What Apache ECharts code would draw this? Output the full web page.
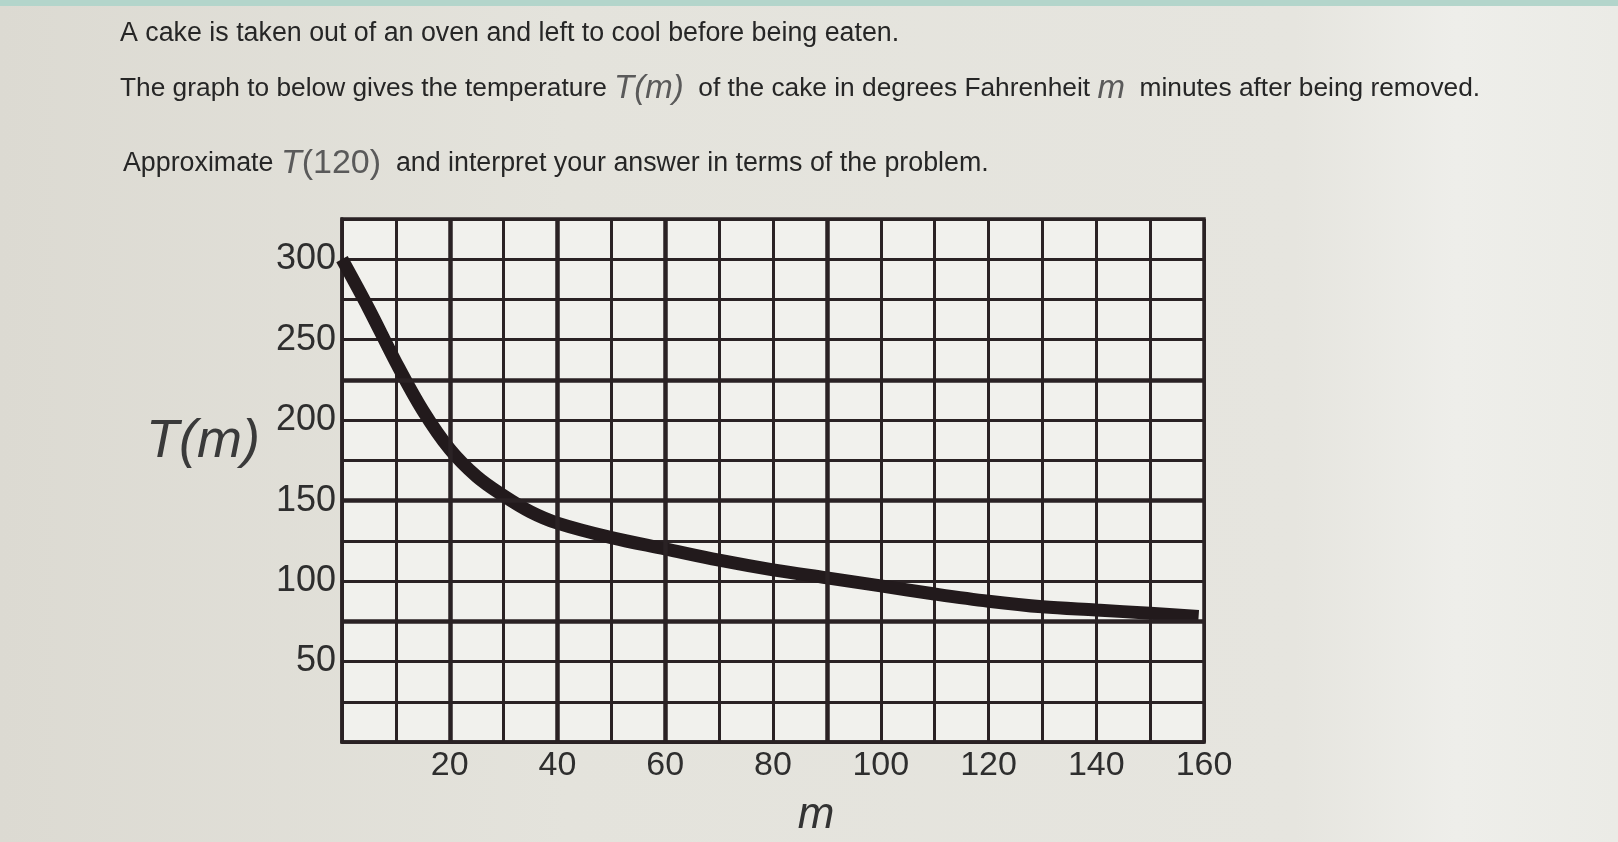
<!DOCTYPE html>
<html>
<head>
<meta charset="utf-8">
<title>Cake cooling</title>
<script src="https://cdn.jsdelivr.net/npm/echarts@6/dist/echarts.min.js"></script>
<style>
    html, body {margin: 0; padding: 0;}
    body {
        width: 1618px; height: 842px; overflow: hidden;
        background: linear-gradient(90deg, #dcdad2 0%, #e4e3dc 35%, #e6e5df 80%, #eeeeea 90%, #ebebe6 100%);
    }
    #strip {position: absolute; left: 0; top: 0; width: 1618px; height: 6px; background: #b3d5cb;}
    #chart {position: absolute; left: 0; top: 0; width: 1618px; height: 842px;}
</style>
</head>
<body>
<div id="strip"></div>
<div id="chart"></div>
<script>
    // minutes after removal -> temperature
    const minutes = [0, 5, 10, 15, 20, 25, 30, 35, 40, 50, 60, 70, 80, 90, 100, 110, 120, 130, 140, 150, 159];
    const temperature = [300, 269, 236, 206, 182, 165, 153, 143, 136, 127, 120, 113, 107, 102, 97, 92, 87.5, 84, 82, 80, 78];
    const xTickLabels = [20, 40, 60, 80, 100, 120, 140, 160];
    const yTickLabels = [50, 100, 150, 200, 250, 300];
    // grid lines that print heavier in the photo
    const heavyMinutes = [20, 40, 60, 90];
    const heavyTemps = [75, 150, 225];

    const ink = '#2a2224';
    const font = 'Liberation Sans';

    const myChart = echarts.init(document.getElementById('chart'));
    myChart.setOption({
        animation: false,
        title: [
            {
                text: 'A cake is taken out of an oven and left to cool before being eaten.',
                left: 120, top: 17, padding: 0,
                textStyle: {fontSize: 26.8, fontWeight: 'normal', color: '#262626', fontFamily: font, lineHeight: 34}
            },
            {
                text: 'The graph to below gives the temperature {m|T(m)}  of the cake in degrees Fahrenheit {m|m}  minutes after being removed.',
                left: 120, top: 72, padding: 0,
                textStyle: {
                    fontSize: 26.3, fontWeight: 'normal', color: '#262626', fontFamily: font, lineHeight: 34,
                    rich: {m: {fontSize: 33, fontStyle: 'italic', color: '#5a5a5a', fontFamily: font, lineHeight: 34}}
                }
            },
            {
                text: 'Approximate {m|T}{n|(120)}  and interpret your answer in terms of the problem.',
                left: 123, top: 147, padding: 0,
                textStyle: {
                    fontSize: 26.8, fontWeight: 'normal', color: '#262626', fontFamily: font, lineHeight: 34,
                    rich: {
                        m: {fontSize: 34, fontStyle: 'italic', color: '#5a5a5a', fontFamily: font, lineHeight: 34},
                        n: {fontSize: 34, color: '#5a5a5a', fontFamily: font, lineHeight: 34}
                    }
                }
            }
        ],
        graphic: [
            {
                type: 'text',
                left: 146,
                top: 415,
                style: {text: 'T(m)', fontSize: 54, fontStyle: 'italic', fill: '#3a3a3a', fontFamily: font}
            }
        ],
        grid: {
            left: 342,
            right: 414,
            top: 219,
            bottom: 100,
            outerBoundsMode: 'none',
            containLabel: false,
            show: true,
            backgroundColor: '#f1f1ed',
            borderColor: ink,
            borderWidth: 3.5
        },
        xAxis: {
            type: 'value',
            min: 0,
            max: 160,
            interval: 10,
            name: 'm',
            nameLocation: 'middle',
            nameGap: 52,
            nameTextStyle: {fontSize: 44, fontStyle: 'italic', color: '#333', fontFamily: font, padding: [0, 0, 0, 86]},
            axisLine: {show: true, lineStyle: {color: ink, width: 3.5}},
            axisTick: {show: false},
            splitLine: {show: true, lineStyle: {color: ink, width: 3}},
            axisLabel: {
                fontSize: 34, color: '#2e2e2e', fontFamily: font, margin: 7,
                formatter: v => xTickLabels.includes(v) ? String(v) : ''
            }
        },
        yAxis: {
            type: 'value',
            min: 0,
            max: 325,
            interval: 25,
            axisLine: {show: true, lineStyle: {color: ink, width: 3.5}},
            axisTick: {show: false},
            splitLine: {show: true, lineStyle: {color: ink, width: 3}},
            axisLabel: {
                fontSize: 36, color: '#2e2e2e', fontFamily: font, margin: 6,
                formatter: v => yTickLabels.includes(v) ? String(v) : ''
            }
        },
        series: [
            {
                name: 'T(m)',
                type: 'line',
                data: minutes.map((m, i) => [m, temperature[i]]),
                smooth: 0.35,
                showSymbol: false,
                lineStyle: {color: '#221a1c', width: 13, cap: 'butt'},
                markLine: {
                    silent: true,
                    symbol: 'none',
                    label: {show: false},
                    lineStyle: {color: ink, width: 4.5, type: 'solid'},
                    data: heavyMinutes.map(m => ({xAxis: m})).concat(heavyTemps.map(t => ({yAxis: t})))
                },
                z: 3
            }
        ]
    });
</script>
</body>
</html>
